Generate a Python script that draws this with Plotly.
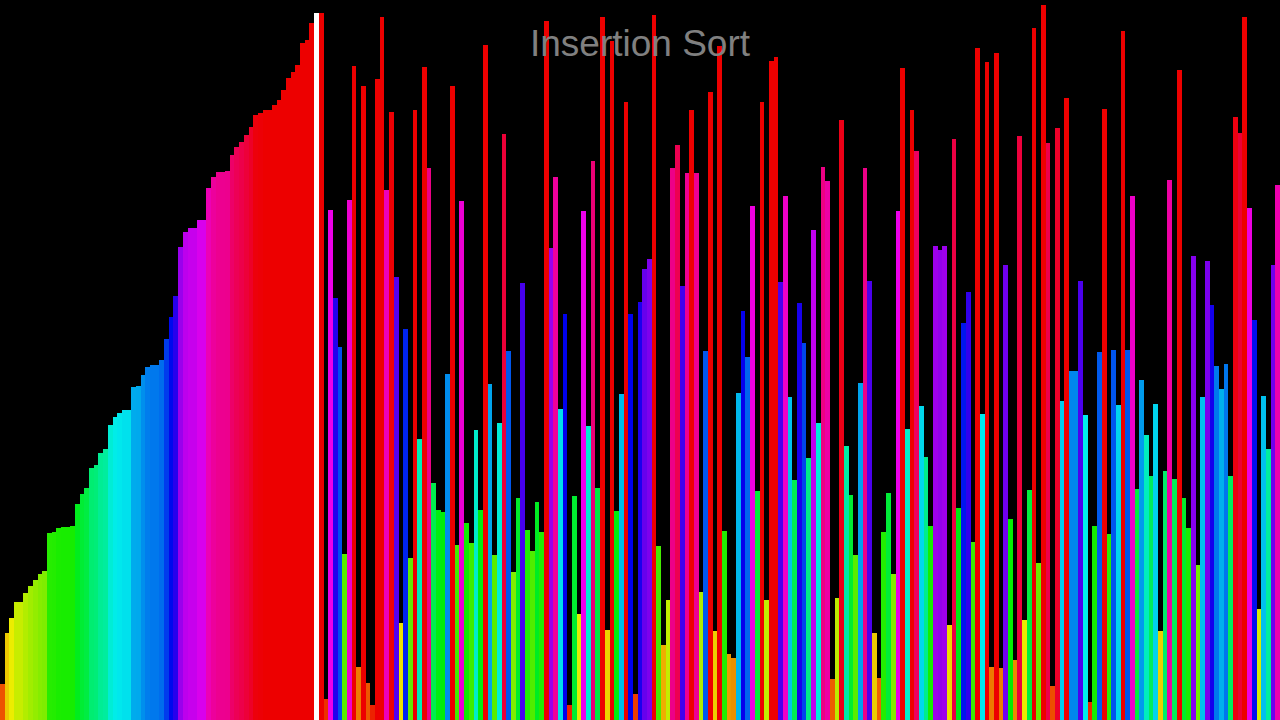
import colorsys

import plotly.graph_objects as go

# bar heights, left to right (0..720 scale); index 67 is the element being compared
sorted_part = [
    36, 87, 102, 118, 118, 127, 134, 140, 146, 149,
    187, 188, 192, 193, 193, 194, 216, 226, 232, 252,
    255, 267, 271, 295, 303, 307, 310, 310, 333, 334,
    345, 353, 355, 355, 360, 381, 403, 424, 473, 488,
    492, 492, 500, 500, 532, 543, 548, 548, 549, 565,
    573, 578, 585, 593, 605, 607, 610, 610, 615, 620,
    630, 642, 648, 655, 677, 680, 697,
]
current_value = [707]
unsorted_part = [
    707, 21, 510, 422, 373, 166, 520, 654, 53, 634,
    37, 15, 641, 703, 530, 608, 443, 97, 391, 162,
    610, 281, 653, 552, 237, 210, 208, 346, 634, 175,
    519, 197, 177, 290, 210, 675, 336, 165, 297, 586,
    369, 148, 222, 437, 190, 169, 218, 188, 699, 472,
    543, 311, 406, 15, 224, 106, 509, 294, 559, 232,
    703, 90, 679, 209, 326, 618, 406, 26, 418, 451,
    461, 705, 174, 75, 120, 552, 575, 434, 547, 610,
    547, 128, 369, 628, 89, 674, 189, 66, 62, 327,
    409, 363, 514, 229, 618, 120, 659, 663, 438, 524,
    323, 240, 417, 377, 262, 490, 297, 553, 539, 41,
    122, 600, 274, 225, 165, 337, 552, 439, 87, 42,
    188, 227, 146, 509, 652, 291, 610, 569, 314, 263,
    194, 474, 470, 474, 95, 581, 212, 397, 428, 178,
    672, 306, 658, 53, 667, 52, 455, 201, 60, 584,
    100, 230, 692, 157, 715, 577, 34, 592, 319, 622,
    349, 349, 439, 305, 18, 194, 368, 611, 186, 370,
    315, 689, 370, 524, 231, 340, 285, 244, 316, 89,
    249, 540, 241, 650, 222, 192, 464, 155, 323, 459,
    415, 354, 331, 356, 244, 603, 587, 703, 512, 400,
    111, 324, 271, 455, 535,
]
values = sorted_part + current_value + unsorted_part
highlight = len(sorted_part)
title_text = "Insertion Sort"


def bar_color(v):
    # rainbow by value, topping out at red
    h = min(v / 610.0, 1.0)
    r, g, b = colorsys.hsv_to_rgb(h if h < 1.0 else 0.0, 1.0, 0.93)
    return f"rgb({int(r * 255)},{int(g * 255)},{int(b * 255)})"


colors = [bar_color(v) for v in values]
colors[highlight] = "#ffffff"

n = len(values)
fig = go.Figure(
    go.Bar(
        x=list(range(n)),
        y=values,
        marker=dict(color=colors, line=dict(width=0)),
        hoverinfo="skip",
    )
)
fig.add_annotation(
    text=title_text,
    xref="paper",
    yref="paper",
    x=0.5,
    y=1 - 43 / 720,
    xanchor="center",
    yanchor="middle",
    showarrow=False,
    font=dict(family="Liberation Sans, Arial", size=37, color="#808080"),
)
fig.update_layout(
    width=1280,
    height=720,
    paper_bgcolor="black",
    plot_bgcolor="black",
    bargap=0,
    showlegend=False,
    margin=dict(l=0, r=0, t=0, b=0),
)
fig.update_xaxes(visible=False, range=[-0.5, n - 0.5])
fig.update_yaxes(visible=False, range=[0, 720])
fig.write_html(
    "out.html",
    config={"displayModeBar": False},
    post_script="document.body.style.margin='0';document.body.style.background='black';",
)
